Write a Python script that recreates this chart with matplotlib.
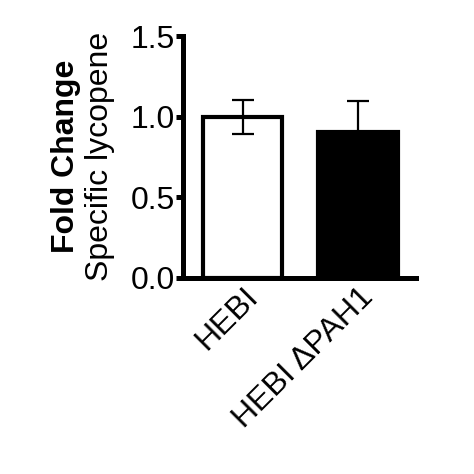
import matplotlib.pyplot as plt

# values
strains = ['HEBI', 'HEBI ΔPAH1']
fold_change = [1.0, 0.907]
sem = [0.106, 0.19]
fill_colors = ['white', 'black']

plt.rcParams['font.family'] = ['Liberation Sans', 'DejaVu Sans']

fig = plt.figure(figsize=(4.74, 4.74), dpi=100)
ax = fig.add_axes([0.386, 0.414, 0.492, 0.51])

x = list(range(len(strains)))
ax.bar(x, fold_change, width=0.69, color=fill_colors, edgecolor='black',
       linewidth=3, zorder=2)
ax.errorbar(x, fold_change, yerr=sem, fmt='none', ecolor='black',
            elinewidth=1.6, capsize=8, capthick=1.6, zorder=3)

ax.set_xlim(-0.515, 1.502)
ax.set_ylim(0, 1.5)
ax.set_yticks([0.0, 0.5, 1.0, 1.5])
ax.set_yticklabels(['0.0', '0.5', '1.0', '1.5'])
ax.set_xticks(x)
ax.set_xticklabels(strains, rotation=45, ha='right', rotation_mode='anchor')

for side in ['top', 'right']:
    ax.spines[side].set_visible(False)
for side in ['left', 'bottom']:
    ax.spines[side].set_linewidth(3.6)
ax.tick_params(axis='y', length=5, width=3.6, labelsize=23, pad=1)
ax.tick_params(axis='x', length=0, labelsize=23, pad=3)

fig.text(0.14, 0.67, 'Fold Change', rotation=90, fontsize=23,
         fontweight='bold', ha='center', va='center')
fig.text(0.211, 0.67, 'Specific lycopene', rotation=90, fontsize=23,
         ha='center', va='center')

fig.savefig('out.png', dpi=100)
